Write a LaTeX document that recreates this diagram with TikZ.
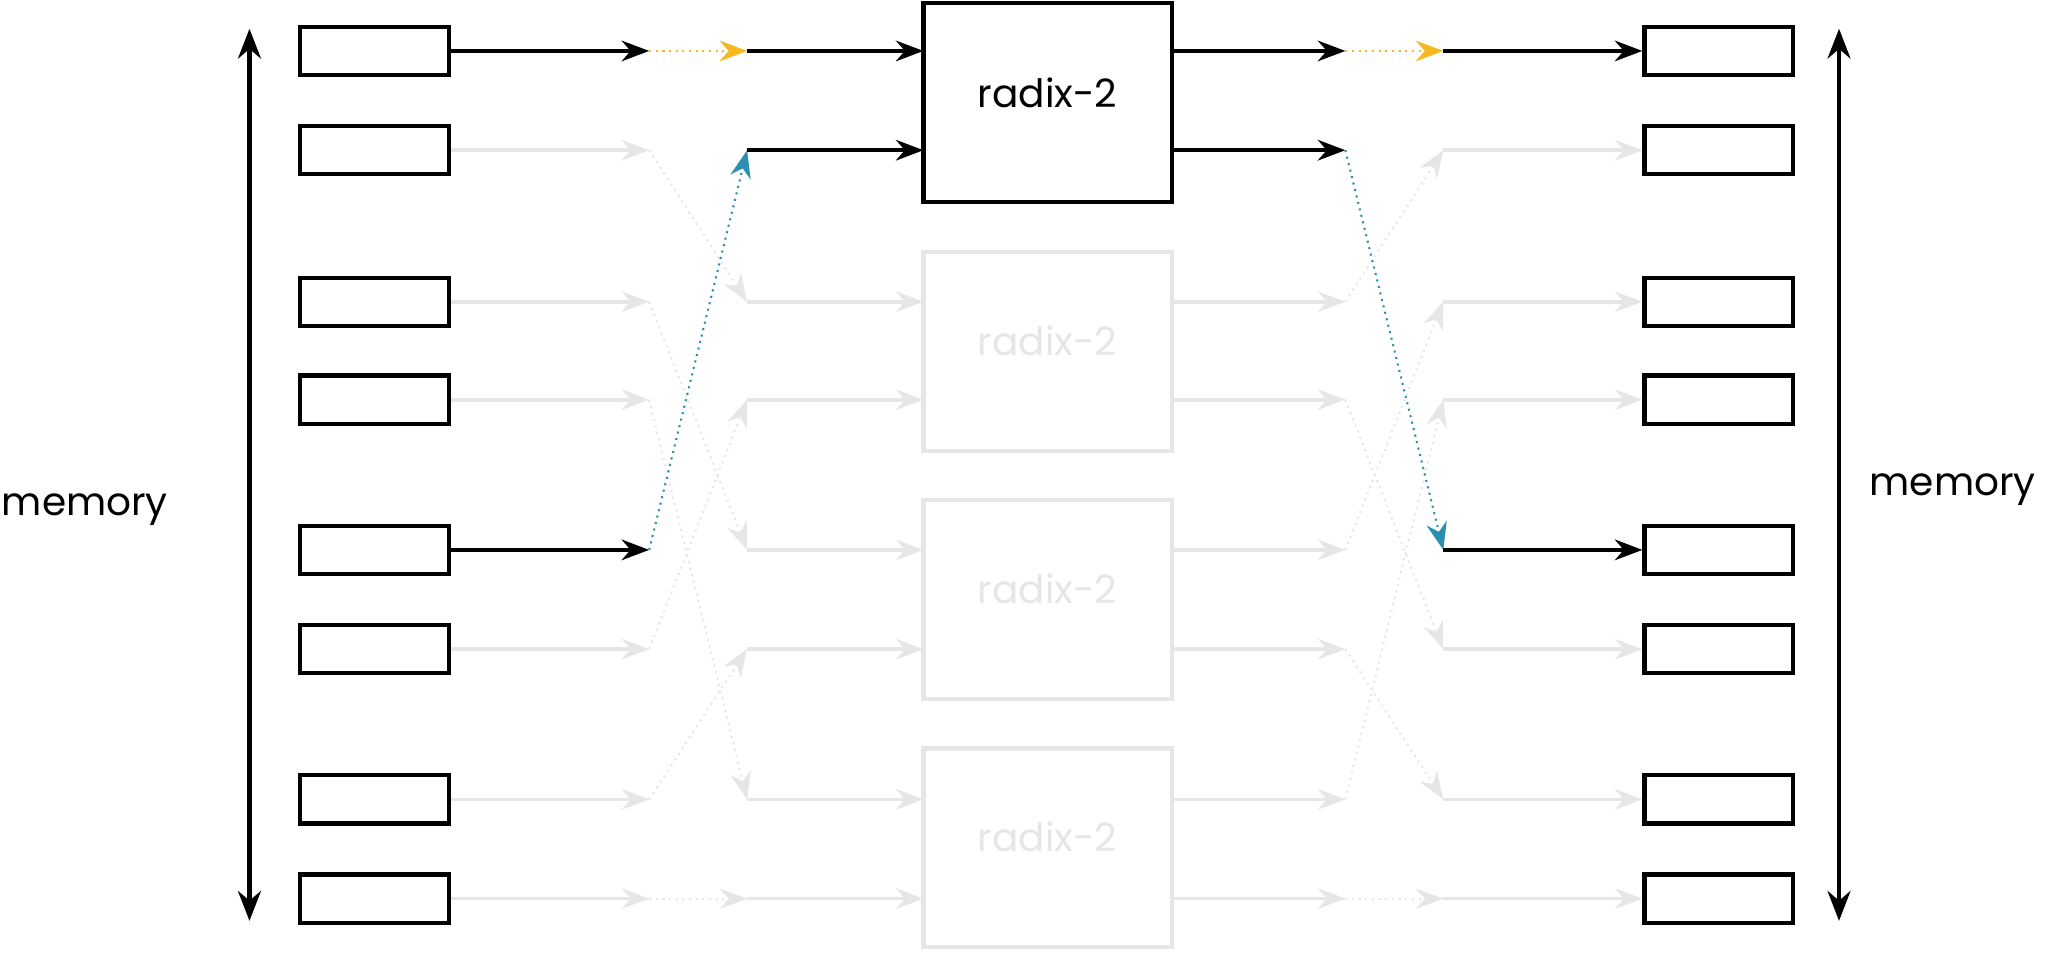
\documentclass[tikz,border=0pt]{standalone}
\usepackage{fontspec}
\setmainfont{Poppins}
\usetikzlibrary{arrows.meta}
\definecolor{lg}{HTML}{E6E6E6}
\definecolor{yel}{HTML}{F5B820}
\definecolor{blu}{HTML}{2A8FB0}
\begin{document}
\begin{tikzpicture}[x=0.02cm,y=-0.02cm,
  cell/.style={draw,line width=1.8pt,minimum width=2.28cm,minimum height=0.74cm,inner sep=0},
  rad/.style={draw,line width=1.8pt,minimum width=3.8cm,minimum height=3.04cm,inner sep=0,font=\fontsize{17}{20}\selectfont},
  rlab/.style={font=\fontsize{17}{20}\selectfont},
  arr/.style={line width=1.6pt,-{Stealth[length=12pt,width=9pt]}},
  darr/.style={line width=0.9pt,dotted,-{Stealth[length=12pt,width=9pt]}},
  gr/.style={draw=lg,text=lg,lg}]
\useasboundingbox (0,0) rectangle (1568,731);
\foreach \i/\y in {0/39,1/115,2/231,3/306,4/421,5/497,6/612,7/688}{
  \coordinate (a\i) at (497,\y); \coordinate (b\i) at (572,\y);
  \coordinate (c\i) at (1030,\y); \coordinate (d\i) at (1105,\y);
  \coordinate (p\i) at (707,\y); \coordinate (q\i) at (897,\y);
  \node[cell] (L\i) at (287,\y) {};
  \node[cell] (R\i) at (1316,\y) {};
}
\node[rad] (K0) at (802,78.5) {};
\node[rlab] (T0) at (802,71) {radix-2};
\foreach \k/\y in {1/269,2/459,3/649}{\node[rad,gr] (K\k) at (802,\y) {};
  \node[rlab,lg] (T\k) at (802,\y-8) {radix-2};}
% grey paths
\foreach \i in {1,2,3,5,6,7}{\draw[arr,lg] (L\i.east) -- (a\i);}
\foreach \i in {1,2,3,4,5,6,7}{\draw[arr,lg] (d\i) -- (R\i.west);}
\foreach \i in {2,3,4,5,6,7}{\draw[arr,lg] (b\i) -- (p\i); \draw[arr,lg] (q\i) -- (c\i);}
\foreach \s/\t in {1/2,5/3,2/4,6/5,3/6,7/7}{\draw[darr,lg] (a\s) -- (b\t);}
\foreach \s/\t in {2/1,3/5,4/2,5/6,6/3,7/7}{\draw[darr,lg] (c\s) -- (d\t);}
% active
\draw[arr] (L0.east) -- (a0);
\draw[arr] (L4.east) -- (a4);
\draw[darr,yel] (a0) -- (b0);
\draw[darr,blu] (a4) -- (b1);
\draw[arr] (b0) -- (p0);
\draw[arr] (b1) -- (p1);
\draw[arr] (q0) -- (c0);
\draw[arr] (q1) -- (c1);
\draw[darr,yel] (c0) -- (d0);
\draw[darr,blu] (c1) -- (d4);
\draw[arr] (d0) -- (R0.west);
\draw[arr] (d4) -- (R4.west);
% memory
\coordinate (mlt) at (191,22); \coordinate (mlb) at (191,705);
\coordinate (mrt) at (1408,22); \coordinate (mrb) at (1408,705);
\draw[line width=1.8pt,{Stealth[length=13pt,width=10pt]}-{Stealth[length=13pt,width=10pt]}] (mlt) -- (mlb);
\draw[line width=1.8pt,{Stealth[length=13pt,width=10pt]}-{Stealth[length=13pt,width=10pt]}] (mrt) -- (mrb);
\node[rlab] (ml) at (65,390) {memory};
\node[rlab] (mr) at (1495,375) {memory};
\end{tikzpicture}
\end{document}
